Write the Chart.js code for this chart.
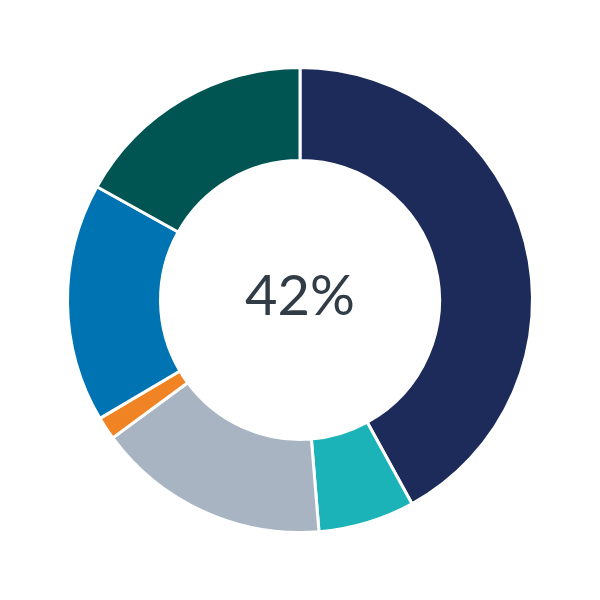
<!DOCTYPE html>
<html>
<head>
<meta charset="utf-8">
<script src="https://cdn.jsdelivr.net/npm/chart.js@4"></script>
<style>
html,body{margin:0;padding:0;background:#fff;}
#wrap{position:relative;width:600px;height:600px;}
</style>
</head>
<body>
<div id="wrap"><canvas id="c" width="600" height="600"></canvas></div>
<script>
const categories = ["A", "B", "C", "D", "E", "F"];
const values = [42, 6.7, 16.2, 1.6, 16.6, 16.9];
const colors = ["#1c2b5a", "#1bb3b7", "#a9b4c2", "#f08424", "#0074b3", "#005553"];
const centerLabel = "42%";

const centerText = {
  id: "centerText",
  afterDraw(chart) {
    const ctx = chart.ctx;
    const meta = chart.getDatasetMeta(0);
    const arc = meta.data[0];
    ctx.save();
    ctx.fillStyle = "#323c47";
    ctx.font = "400 56px Lato, 'Open Sans', sans-serif";
    ctx.textAlign = "center";
    ctx.textBaseline = "middle";
    ctx.fillText(centerLabel, arc.x, arc.y - 3);
    ctx.restore();
  }
};

new Chart(document.getElementById("c"), {
  type: "doughnut",
  data: {
    labels: categories,
    datasets: [{
      data: values,
      backgroundColor: colors,
      borderColor: "#ffffff",
      borderWidth: 3
    }]
  },
  options: {
    responsive: false,
    animation: false,
    cutout: "60%",
    layout: { padding: 66 },
    plugins: { legend: { display: false }, tooltip: { enabled: false } }
  },
  plugins: [centerText]
});
</script>
</body>
</html>
